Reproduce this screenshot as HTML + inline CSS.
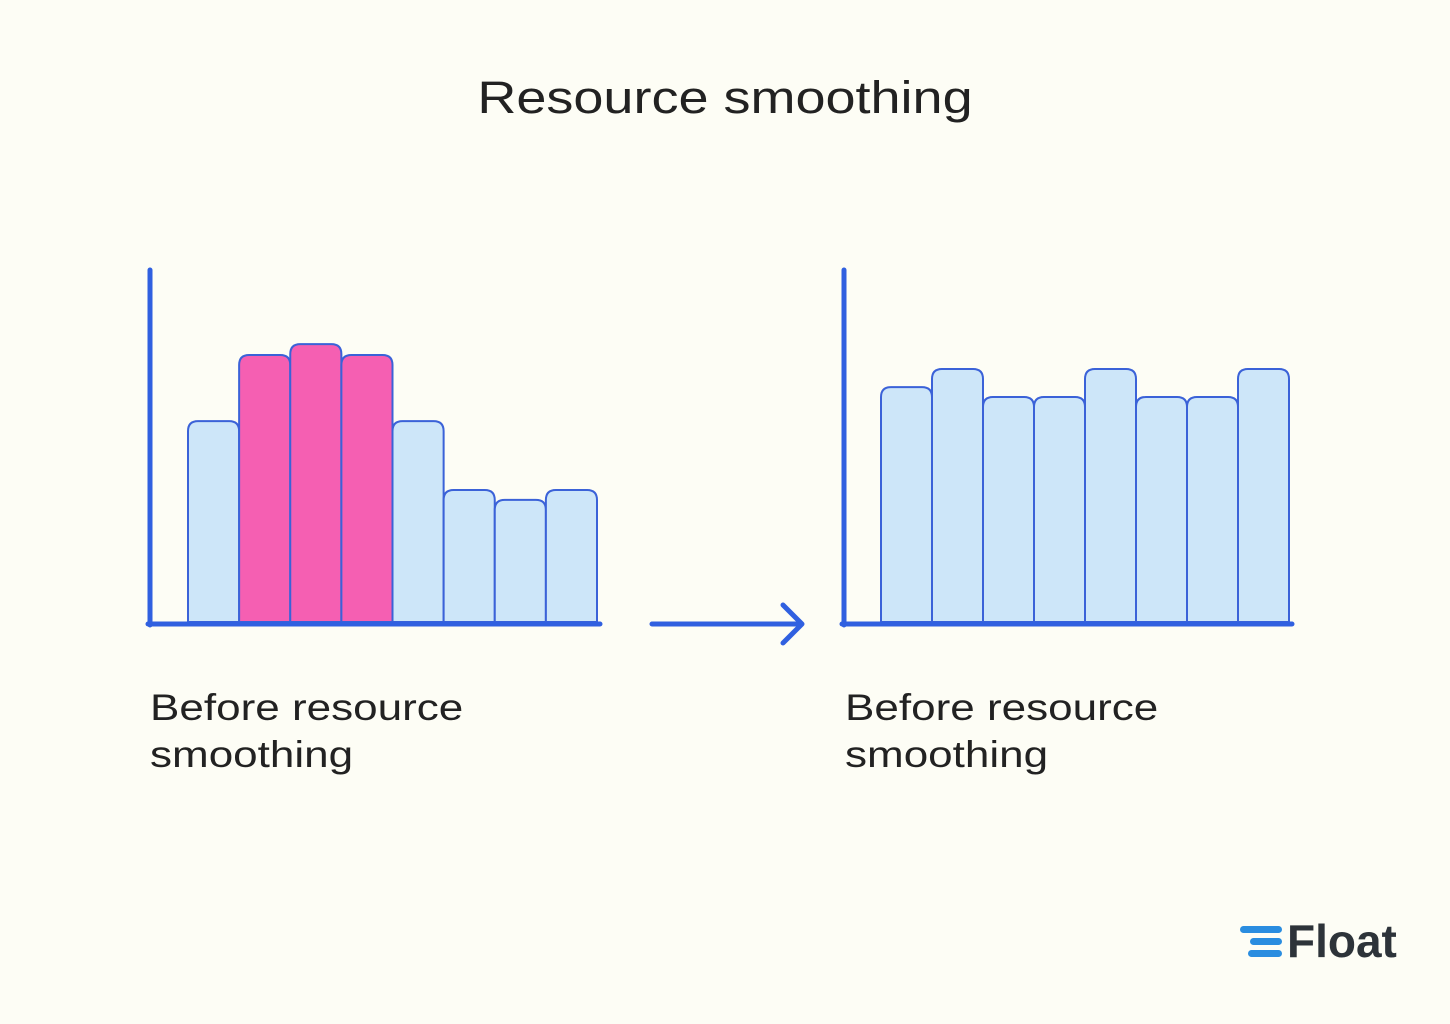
<!DOCTYPE html>
<html><head><meta charset="utf-8"><style>
html,body{margin:0;padding:0;background:#fdfdf5;}
body{width:1450px;height:1024px;position:relative;overflow:hidden;font-family:"Liberation Sans",sans-serif;color:#222;}
.t{position:absolute;white-space:nowrap;}
</style></head><body>
<div class="t" style="left:0;width:1450px;text-align:center;top:72px;font-size:45px;transform:scaleX(1.2);transform-origin:725px 0;">Resource smoothing</div>
<div class="t" style="left:150px;top:684px;font-size:37px;line-height:47px;transform:scaleX(1.19);transform-origin:0 0;">Before resource<br>smoothing</div>
<div class="t" style="left:845px;top:684px;font-size:37px;line-height:47px;transform:scaleX(1.19);transform-origin:0 0;">Before resource<br>smoothing</div>
<svg id="svg" width="1450" height="1024" style="position:absolute;left:0;top:0"></svg>
<div class="t" style="left:1240px;top:922px;">
 <div style="position:absolute;left:0;top:4px;width:42px;height:7px;border-radius:3.5px;background:#2a8de0"></div>
 <div style="position:absolute;left:10px;top:16px;width:32px;height:7px;border-radius:3.5px;background:#2a8de0"></div>
 <div style="position:absolute;left:8px;top:28px;width:34px;height:7px;border-radius:3.5px;background:#2a8de0"></div>
 <div style="position:absolute;left:47px;top:-8px;font-size:46px;font-weight:bold;color:#2d3339;">Float</div>
</div>
<script>
const beforeValues=[57.4,76.3,79.4,76.3,57.4,37.7,34.9,37.7];
const beforeHighlight=[false,true,true,true,false,false,false,false];
const afterValues=[67.1,72.3,64.3,64.3,72.3,64.3,64.3,72.3];
const afterHighlight=[false,false,false,false,false,false,false,false];
const NS="http://www.w3.org/2000/svg";
const svg=document.getElementById('svg');
function mk(tag,attrs){const e=document.createElementNS(NS,tag);for(const k in attrs)e.setAttribute(k,attrs[k]);svg.appendChild(e);return e;}
function yScale(v){return 622-v*3.5;}
function drawChart(axisX,firstX,lastX,vals,hl,name){
  const n=vals.length,bw=(lastX-firstX)/n;
  vals.forEach((v,i)=>{
    const x=firstX+i*bw,y=yScale(v),r=10;
    const d=`M${x},622 L${x},${y+r} Q${x},${y} ${x+r},${y} L${x+bw-r},${y} Q${x+bw},${y} ${x+bw},${y+r} L${x+bw},622 Z`;
    const p=mk('path',{d:d,fill:hl[i]?'#f55fb2':'#cde6f9',stroke:'#3b62d8','stroke-width':2});
    
    
  });
  const ya=mk('line',{x1:axisX,y1:270,x2:axisX,y2:625,stroke:'#3060e0','stroke-width':5,'stroke-linecap':'round'});
  
  
  const xa=mk('line',{x1:axisX-2,y1:624,x2:lastX+3,y2:624,stroke:'#3060e0','stroke-width':5,'stroke-linecap':'round'});
  
  
}
drawChart(150,188,597,beforeValues,beforeHighlight,'before');
drawChart(844,881,1289,afterValues,afterHighlight,'after');
const ar=mk('path',{d:'M652,624 L801,624 M783,605 L802,624 L783,643',fill:'none',stroke:'#3060e0','stroke-width':5,'stroke-linecap':'round','stroke-linejoin':'round'});


</script>
</body></html>
